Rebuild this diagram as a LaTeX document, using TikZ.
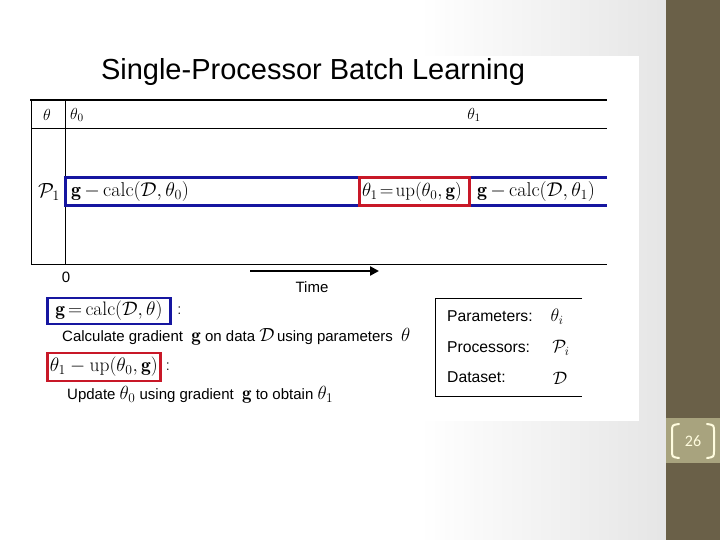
\RequirePackage{fix-cm}
\documentclass[tikz,border=0pt]{standalone}
\usepackage{fontspec}
\newfontfamily\arial{Liberation Sans}
\newfontfamily\slidefont{Carlito}
\usetikzlibrary{positioning,arrows.meta}

\definecolor{calcblue}{RGB}{22,22,160}
\definecolor{upred}{RGB}{200,24,40}
\definecolor{strip}{RGB}{106,96,72}
\definecolor{pagebox}{RGB}{168,163,126}
\definecolor{bracket}{RGB}{255,252,222}

\newcommand{\lm}[1]{{\fontsize{19}{20}\selectfont$#1$}}

\tikzset{
  sans/.style={font=\arial\fontsize{15}{17}\selectfont, inner sep=0pt},
  keytext/.style={font=\arial\fontsize{15.7}{18}\selectfont, inner sep=0pt, anchor=west},
  mth/.style={font=\fontsize{18}{20}\selectfont, inner sep=0pt},
  headmth/.style={font=\fontsize{16}{18}\selectfont, inner sep=0pt},
  bigmth/.style={font=\fontsize{20}{22}\selectfont},
  calcbox/.style={draw=calcblue, line width=3pt},
  upbox/.style={draw=upred, line width=3pt},
  rowbox/.style={mth, minimum height=28pt, inner xsep=6pt, outer sep=0pt, align=left, anchor=north west},
}

\begin{document}
\begin{tikzpicture}[x=1pt,y=-1pt]
  \useasboundingbox (0,0) rectangle (720,540);
  % slide background
  \fill[white] (0,0) rectangle (666,540);
  \shade[left color=white, right color=black!10] (420,0) rectangle (666,540);
  \fill[white] (0,56) rectangle (639,421);
  \fill[strip] (666,0) rectangle (720,540);
  \fill[pagebox] (666,418) rectangle (720,463);
  \draw[bracket, line width=2pt, line cap=round] (679,424) .. controls (672,425) .. (672,432) -- (672,450) .. controls (672,457) .. (679,458);
  \draw[bracket, line width=2pt, line cap=round] (707,424) .. controls (714,425) .. (714,432) -- (714,450) .. controls (714,457) .. (707,458);
  \node[font=\slidefont\fontsize{16}{18}\selectfont, text=bracket] (page) at (693,441) {26};

  % title
  \node[font=\arial\fontsize{29}{32}\selectfont, inner sep=0pt, anchor=base] (title) at (313,80) {Single-Processor Batch Learning};

  % table
  \draw[line width=1.6pt] (30,100) -- (607,100);
  \draw[line width=0.9pt] (31,128) -- (607,128);
  \draw[line width=0.9pt] (31,264) -- (607,264);
  \draw[line width=0.9pt] (31,100) -- (31,264);
  \draw[line width=0.9pt] (65,100) -- (65,264);
  \node[headmth] (theta) at (47,115) {$\theta$};
  \node[headmth, anchor=west] (theta0) at (70,115) {$\theta_0$};
  \node[headmth] (theta1) at (474,115) {$\theta_1$};
  \node[mth, font=\fontsize{20.5}{22}\selectfont] (proc1) at (49,192) {$\mathcal{P}_1$};

  \node[rowbox, bigmth, calcbox, minimum width=294pt, text width=282pt] (calc0) at (65,178) {$\mathbf{g}\,{-}\,\mathrm{calc}(\mathcal{D},\theta_0)$};
  \node[rowbox, bigmth, minimum width=138pt, text width=126pt, inner xsep=8pt] (calc1) at (469,178) {$\mathbf{g}\,{-}\,\mathrm{calc}(\mathcal{D},\theta_1)$};
  \draw[calcblue, line width=3pt] (607,178) -- (calc1.north west) -- (calc1.south west) -- (607,206);
  \node[rowbox, upbox, font=\fontsize{19}{21}\selectfont, minimum width=110pt, text width=104pt, inner xsep=3pt] (upd) at (359,178) {$\theta_1\!=\!\mathrm{up}(\theta_0,\mathbf{g})$};

  % time axis
  \node[sans] (zero) at (66,277) {0};
  \coordinate (tstart) at (250,271);
  \coordinate (tend) at (379,271);
  \draw[line width=2.5pt, -{Triangle[length=9pt,width=9pt]}] (tstart) -- (tend);
  \node[sans] (time) at (312,287) {Time};

  % legend
  \node[mth, calcbox, font=\fontsize{19.5}{21}\selectfont, line width=2.5pt, minimum height=26pt, inner xsep=8pt, anchor=west] (legcalc) at (46,311) {$\mathbf{g}\,{=}\,\mathrm{calc}(\mathcal{D},\theta)$};
  \node[mth, right=5pt of legcalc] (colon1) {$:$};
  \node[sans, anchor=west] (calcdesc) at (62,337) {Calculate gradient\ \ \lm{\mathbf{g}} on data \lm{\mathcal{D}}\,using parameters\ \ \lm{\theta}};
  \node[mth, upbox, font=\fontsize{19.5}{21}\selectfont, line width=2.5pt, minimum height=28pt, inner xsep=2.5pt, anchor=west] (legup) at (46,367) {$\theta_1-\mathrm{up}(\theta_0,\mathbf{g})$};
  \node[mth, right=4pt of legup] (colon2) {$:$};
  \node[sans, anchor=west] (updesc) at (67,395) {Update \lm{\theta_0} using gradient\ \ \lm{\mathbf{g}} to obtain \lm{\theta_1}};

  % key
  \coordinate (keyne) at (582,298);
  \coordinate (keynw) at (435,298);
  \coordinate (keysw) at (435,396);
  \coordinate (keyse) at (582,396);
  \draw[line width=0.9pt] (keyne) -- (keynw) -- (keysw) -- (keyse);
  \node[keytext] (params) at (447,316) {Parameters:};
  \node[mth] (thetai) at (557,317) {$\theta_i$};
  \node[keytext] (procs) at (447,347) {Processors:};
  \node[mth] (proci) at (561,348) {$\mathcal{P}_i$};
  \node[keytext] (data) at (447,377) {Dataset:};
  \node[mth] (dataset) at (560,378) {$\mathcal{D}$};
\end{tikzpicture}
\end{document}
